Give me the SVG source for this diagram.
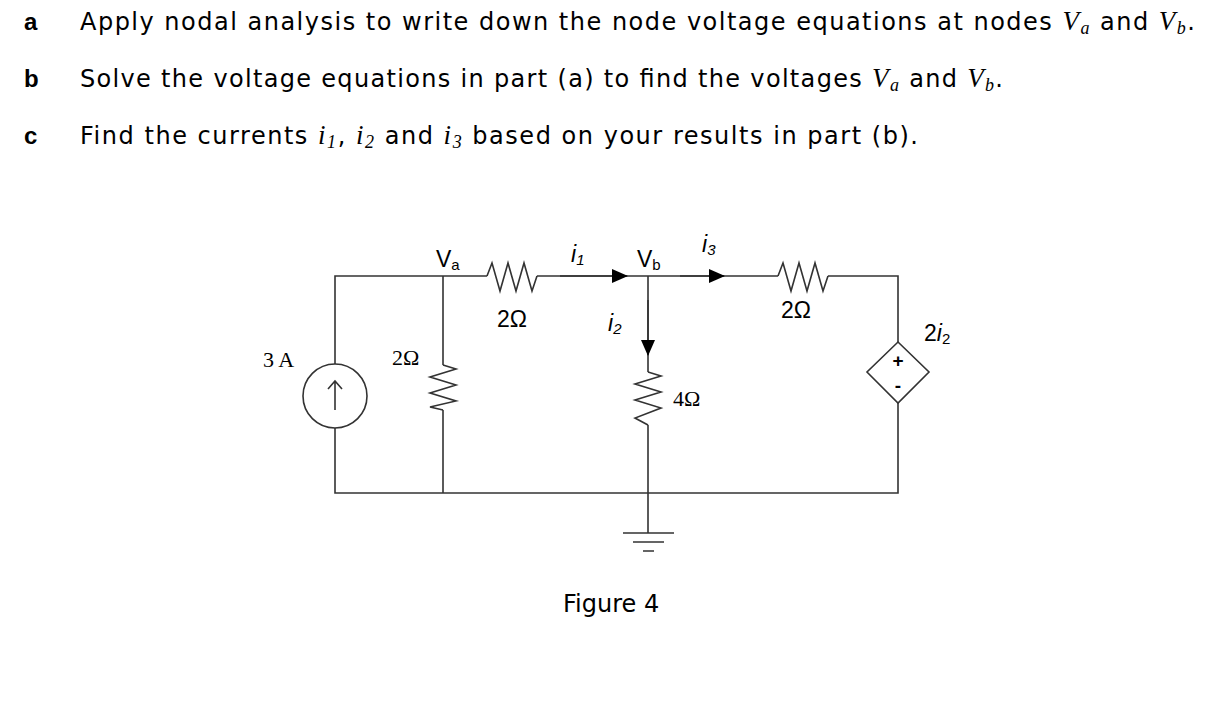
<svg xmlns="http://www.w3.org/2000/svg" width="1223" height="721" viewBox="0 0 1223 721">
<style>
.q{font-family:"DejaVu Sans",Verdana,sans-serif;font-size:24px;fill:#000}
.b{font-family:"Liberation Sans",Arial,sans-serif;font-size:24px;font-weight:bold}
.m{font-family:"Liberation Serif",serif;font-style:italic;font-size:27px}
.l{font-family:"Liberation Sans",Arial,sans-serif;font-size:23px}
.s{font-family:"Liberation Serif",serif;font-size:22px}
.w{stroke:#333;stroke-width:1.6;fill:none}
</style>
<defs><marker id="ar" markerWidth="16" markerHeight="14" refX="15" refY="7" orient="auto" markerUnits="userSpaceOnUse"><path d="M0,0 L16,7 L0,14 Z" fill="#000"/></marker></defs>
<rect width="1223" height="721" fill="#fff"/>
<text class="b" x="24" y="30">a</text>
<text class="q" x="80" y="30" textLength="1115" lengthAdjust="spacing">Apply nodal analysis to write down the node voltage equations at nodes <tspan class="m">V<tspan font-size="18" dy="4">a</tspan></tspan><tspan dy="-4"> and </tspan><tspan class="m">V<tspan font-size="18" dy="4">b</tspan></tspan><tspan dy="-4">.</tspan></text>
<text class="b" x="24" y="87">b</text>
<text class="q" x="80" y="87" textLength="923" lengthAdjust="spacing">Solve the voltage equations in part (a) to find the voltages <tspan class="m">V<tspan font-size="18" dy="4">a</tspan></tspan><tspan dy="-4"> and </tspan><tspan class="m">V<tspan font-size="18" dy="4">b</tspan></tspan><tspan dy="-4">.</tspan></text>
<text class="b" x="24" y="144">c</text>
<text class="q" x="80" y="144" textLength="838" lengthAdjust="spacing">Find the currents <tspan class="m">i<tspan font-size="18" dy="4">1</tspan></tspan><tspan dy="-4">, </tspan><tspan class="m">i<tspan font-size="18" dy="4">2</tspan></tspan><tspan dy="-4"> and </tspan><tspan class="m">i<tspan font-size="18" dy="4">3</tspan></tspan><tspan dy="-4"> based on your results in part (b).</tspan></text>
<g id="connectors">
<path class="w" d="M487,276 H335 V364 M335,428 V493 H898 V403 M898,342 V276 H828 M778,276 H537"/>
<path class="w" d="M443,276 V365 M443,410 V493"/>
<path class="w" d="M648,276 V372 M648,425 V533"/>
<path class="w" d="M560,276 H627" marker-end="url(#ar)"/>
<path class="w" d="M680,276 H724" marker-end="url(#ar)"/>
<path class="w" d="M648,300 V355" marker-end="url(#ar)"/>
</g>
<g id="R1"><path class="w" d="M487,276 L492,263 L500,291 L508,263 L516,291 L524,263 L532,291 L537,276"/></g>
<g id="R2"><path class="w" d="M443,365 L456,369 L430,377 L456,385 L430,393 L456,401 L430,407 L443,410"/></g>
<g id="R3"><path class="w" d="M648,372 L661,376 L635,384 L661,392 L635,400 L661,408 L635,418 L648,425"/></g>
<g id="R4"><path class="w" d="M778,276 L783,263 L791,291 L799,263 L807,291 L815,263 L823,291 L828,276"/></g>
<g id="src"><circle class="w" cx="335" cy="396" r="32"/><path class="w" d="M335,410 V381 M328,389 L335,381 L342,389"/></g>
<g id="dep"><path class="w" d="M898,342 L929,372 L898,403 L867,372 Z"/><text x="898" y="367" text-anchor="middle" font-family="Liberation Sans,sans-serif" font-size="19" font-weight="bold">+</text><text x="898" y="392" text-anchor="middle" font-family="Liberation Sans,sans-serif" font-size="19" font-weight="bold">-</text></g>
<g id="gnd"><path class="w" d="M623,533 H674 M633,542 H664 M643,551 H654"/></g>
<g id="labels">
<text class="l" x="436" y="267">V<tspan font-size="15" dy="3">a</tspan></text>
<text class="l" x="637" y="267">V<tspan font-size="15" dy="3">b</tspan></text>
<text class="l" x="571" y="262" font-style="italic">i<tspan font-size="15" dy="3">1</tspan></text>
<text class="l" x="702" y="252" font-style="italic">i<tspan font-size="15" dy="3">3</tspan></text>
<text class="l" x="608" y="331" font-style="italic">i<tspan font-size="15" dy="3">2</tspan></text>
<text class="l" x="497" y="327">2Ω</text>
<text class="l" x="781" y="318">2Ω</text>
<text class="l" x="924" y="341">2<tspan font-style="italic">i</tspan><tspan font-size="15" dy="3">2</tspan></text>
<text class="s" x="263" y="367">3 A</text>
<text class="s" x="392" y="365">2Ω</text>
<text class="s" x="673" y="406">4Ω</text>
<text class="q" x="563" y="612" font-size="26">Figure 4</text>
</g>
</svg>
